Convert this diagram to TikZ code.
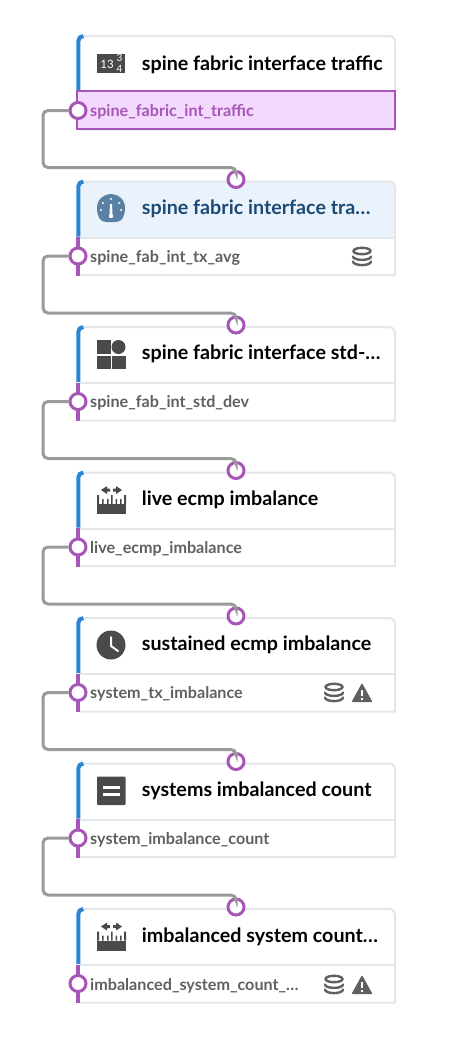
\documentclass[tikz,border=0pt]{standalone}
\usepackage{fontspec}
\setmainfont{Lato}
\usetikzlibrary{calc}
\definecolor{barblue}{HTML}{2A85D2}
\definecolor{edgegray}{HTML}{E3E6EB}
\definecolor{purp}{HTML}{A855B8}
\definecolor{purpfill}{HTML}{F2D9FD}
\definecolor{linkgray}{HTML}{9A9A9A}
\definecolor{icongray}{HTML}{4A4A4A}
\definecolor{fieldgray}{HTML}{5F6060}
\definecolor{hiblue}{HTML}{EAF3FB}
\definecolor{hitext}{HTML}{1B4A75}
\definecolor{hiicon}{HTML}{5A80A3}
\tikzset{
  x=1pt,y=-1pt,
  titletext/.style={anchor=west,inner sep=0pt,font=\fontsize{19.7}{22}\selectfont\bfseries,text=black},
  fieldtext/.style={anchor=west,inner sep=0pt,font=\fontsize{16.15}{18}\selectfont\bfseries,text=fieldgray},
  port/.style={circle,draw=purp,line width=3pt,fill=white,minimum size=16pt,inner sep=0pt},
  link/.style={draw=linkgray,line width=3pt,rounded corners=5pt},
  cardedge/.style={draw=edgegray,line width=2pt},
}
% card: #1 fill, #2 top y
\newcommand{\cardframe}[2][white]{%
  \path[fill=#1,draw=none] (78,#2+6) arc[start angle=180,end angle=270,radius=6] -- (389,#2) arc[start angle=270,end angle=360,radius=6] -- (395,#2+56) -- (78,#2+56) -- cycle;
  \draw[cardedge] (82,#2) -- (389,#2) arc[start angle=270,end angle=360,radius=6] -- (395,#2+93.5) -- (80,#2+93.5);
  \draw[cardedge] (80,#2+56) -- (395,#2+56);
  \draw[barblue,line width=4pt] (78.3,#2+55) -- (78.3,#2+5) arc[start angle=180,end angle=270,radius=5];
  \fill[purp] (76.3,#2+55.5) rectangle (80.3,#2+94);
}
\newcommand{\icondb}[2]{%
  \begin{scope}[shift={(#1,#2)}]
    \draw[fieldgray,line width=2.4pt] (0,-6) ellipse[x radius=8.5,y radius=3.2];
    \draw[fieldgray,line width=2.4pt,line cap=round] (-9,-0.5) arc[start angle=180,end angle=0,x radius=9,y radius=3.4];
    \draw[fieldgray,line width=2.4pt,line cap=round] (-9,4.5) arc[start angle=180,end angle=0,x radius=9,y radius=3.6];
  \end{scope}}
\newcommand{\iconwarn}[2]{%
  \begin{scope}[shift={(#1,#2)}]
    \fill[fieldgray,rounded corners=1pt] (0,-10) -- (10.5,9) -- (-10.5,9) -- cycle;
    \fill[white] (-1.2,-3) rectangle (1.2,3.2);
    \fill[white] (-1.2,4.6) rectangle (1.2,6.8);
  \end{scope}}
\newcommand{\iconruler}[1]{%
  \begin{scope}[shift={(97,#1)}]
    \fill[icongray] (0,3) rectangle (29,13);
    \fill[icongray] (0,-6) rectangle (2,3) (5,-2) rectangle (6.5,3) (10,-2) rectangle (11.5,3)
                    (14,-6) rectangle (15.5,3) (18.5,-2) rectangle (20,3) (23,-2) rectangle (24.5,3) (27,-6) rectangle (29,3);
    \fill[icongray] (4,-11) -- (10,-15) -- (10,-12.5) -- (13,-12.5) -- (13,-9.5) -- (10,-9.5) -- (10,-7) -- cycle;
    \fill[icongray] (25,-11) -- (19,-15) -- (19,-12.5) -- (16,-12.5) -- (16,-9.5) -- (19,-9.5) -- (19,-7) -- cycle;
  \end{scope}}
\begin{document}
\begin{tikzpicture}
\useasboundingbox (0,0) rectangle (458,1042);
\fill[white] (0,0) rectangle (458,1042);

% cards
\cardframe{36}
\cardframe[hiblue]{181.5}
\cardframe{327}
\cardframe{472.5}
\cardframe{618}
\cardframe{763.5}
\cardframe{909}

% highlighted field of the first card
\draw[purp,line width=2pt,fill=purpfill] (77,91) rectangle (395,129);

% titles
\node[titletext] (t1) at (141.7,64.5) {spine fabric interface traffic};
\node[titletext,text=hitext] (t2) at (141.7,208.5) {spine fabric interface tra…};
\node[titletext] (t3) at (141.7,354) {spine fabric interface std-…};
\node[titletext] (t4) at (141.7,500) {live ecmp imbalance};
\node[titletext] (t5) at (141.7,645) {sustained ecmp imbalance};
\node[titletext] (t6) at (141.7,791) {systems imbalanced count};
\node[titletext] (t7) at (141.7,936.5) {imbalanced system count…};

% field names
\node[fieldtext,text=purp] (f1) at (90,112) {spine\_fabric\_int\_traffic};
\node[fieldtext] (f2) at (90,258) {spine\_fab\_int\_tx\_avg};
\node[fieldtext] (f3) at (90,403) {spine\_fab\_int\_std\_dev};
\node[fieldtext] (f4) at (90,549) {live\_ecmp\_imbalance};
\node[fieldtext] (f5) at (90,694) {system\_tx\_imbalance};
\node[fieldtext] (f6) at (90,840) {system\_imbalance\_count};
\node[fieldtext] (f7) at (90,985.5) {imbalanced\_system\_count\_…};

% ports
\foreach \n/\yo/\yi in {1/110.5/179.5,2/256/325,3/401.5/470.5,4/547/616,5/692.5/761.5,6/838/907}{
  \node[port] (out\n) at (78,\yo) {};
  \node[port] (in\n) at (236,\yi) {};
}
\node[port] (out7) at (78,983.5) {};

% connectors
\foreach \n in {1,...,6}{
  \coordinate (a\n) at ($(out\n)+(-35,0)$);
  \coordinate (b\n) at ($(out\n)+(-35,57)$);
  \coordinate (c\n) at ($(in\n)+(0,-12)$);
  \draw[link] (out\n.west) -- (a\n) -- (b\n) -- (c\n) -- (in\n.north);
}

% icon 1: number table
\fill[icongray] (97,54) rectangle (125,73);
\node[inner sep=0pt,text=white,font=\fontsize{11.5}{11.5}\selectfont] (n13) at (107,64.5) {13};
\node[inner sep=0pt,text=white,font=\fontsize{10}{10}\selectfont] (n3) at (119.5,57.5) {3};
\node[inner sep=0pt,text=white,font=\fontsize{10}{10}\selectfont] (n4) at (119.5,69) {4};

% icon 2: gauge
\fill[hiicon] (97,208) .. controls (97,199) and (104,194) .. (111,194) .. controls (118,194) and (125,199) .. (125,208) .. controls (125,216) and (122,222) .. (116,222) -- (106,222) .. controls (100,222) and (97,216) .. (97,208) -- cycle;
\fill[white] (111,199) circle[radius=1.2] (103,203) circle[radius=1.2] (119,203) circle[radius=1.2] (101,210) circle[radius=1.2] (121,210) circle[radius=1.2];
\fill[white] (110,204) -- (112,204) -- (112.5,214) -- (109.5,214) -- cycle;
\fill[white] (111,216) circle[radius=2.2];

% icon 3: squares and circle
\fill[icongray] (96.5,340) rectangle (110.5,354);
\fill[icongray] (118.5,347) circle[radius=7];
\fill[icongray] (96.5,356) rectangle (110.5,369);
\fill[icongray] (112,356) rectangle (125.5,369);

% icon 4, 7: ruler
\iconruler{501}
\iconruler{937.5}

% icon 5: clock
\fill[icongray] (111,645) circle[radius=14.5];
\draw[white,line width=2pt,line cap=round] (111,637) -- (111,646) -- (118,651);

% icon 6: equals tile
\fill[icongray,rounded corners=1pt] (97,776.5) rectangle (125.5,805);
\fill[white] (103,785.5) rectangle (119.5,789);
\fill[white] (103,792.5) rectangle (119.5,796);

% database + warning icons
\icondb{362}{257}
\icondb{334}{693}
\iconwarn{362}{693}
\icondb{334}{985}
\iconwarn{362}{985}
\end{tikzpicture}
\end{document}
